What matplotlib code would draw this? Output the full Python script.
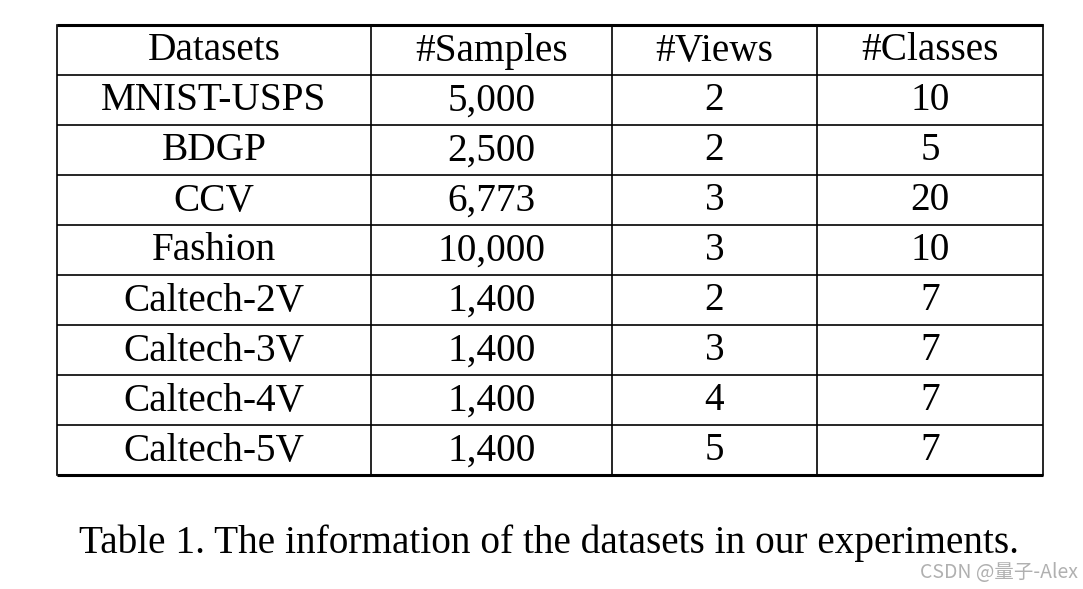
import matplotlib.pyplot as plt

headers = ["Datasets", "#Samples", "#Views", "#Classes"]
datasets = ["MNIST-USPS", "BDGP", "CCV", "Fashion", "Caltech-2V", "Caltech-3V", "Caltech-4V", "Caltech-5V"]
samples = ["5,000", "2,500", "6,773", "10,000", "1,400", "1,400", "1,400", "1,400"]
views = ["2", "2", "3", "3", "2", "3", "4", "5"]
classes = ["10", "5", "20", "10", "7", "7", "7", "7"]
caption = "Table 1. The information of the datasets in our experiments."

W, H = 1083, 589
fig = plt.figure(figsize=(W / 100, H / 100), dpi=100)
ax = fig.add_axes([0, 0, 1, 1])
ax.set_xlim(0, W)
ax.set_ylim(H, 0)
ax.axis("off")

col_x = [57, 371, 612, 817, 1043]
top, row_h = 25, 50
rows = [headers] + [list(r) for r in zip(datasets, samples, views, classes)]
n = len(rows)
bottom = top + n * row_h

font = dict(family="Liberation Serif", fontsize=28.3, color="black")

# horizontal rules
for i in range(n + 1):
    y = top + i * row_h
    lw = 2.2 if i in (0, n) else 1.2
    ax.plot([col_x[0], col_x[-1]], [y, y], color="black", lw=lw, solid_capstyle="butt")
# vertical rules
for x in col_x:
    ax.plot([x, x], [top, bottom], color="black", lw=1.2)

for i, row in enumerate(rows):
    yc = top + i * row_h + row_h / 2 + 1
    for j, txt in enumerate(row):
        xc = (col_x[j] + col_x[j + 1]) / 2
        ax.text(xc, yc, txt, ha="center", va="center", **font)

ax.text(549, 543, caption, ha="center", va="center", **font)
ax.text(1078, 572, "CSDN @量子-Alex", ha="right", va="center", fontsize=14,
        color="#b0b0b0", family=["Noto Sans CJK SC", "DejaVu Sans"])

fig.savefig("out.png", dpi=100)
